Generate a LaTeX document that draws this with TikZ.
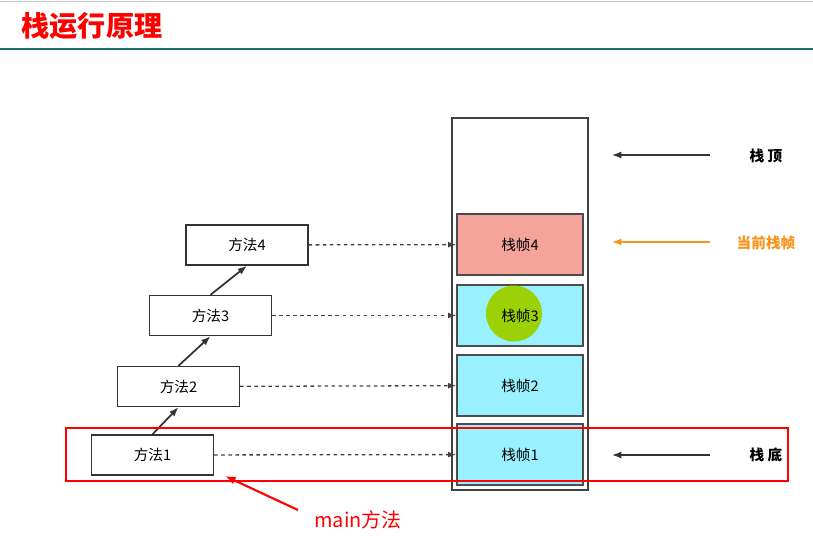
\documentclass[tikz,border=0pt]{standalone}
\usepackage{fontspec}
\setmainfont{Noto Sans CJK SC}
\usetikzlibrary{arrows.meta,positioning}
\definecolor{frameblue}{HTML}{99F0FF}
\definecolor{framered}{HTML}{F4A49A}
\definecolor{curorange}{HTML}{F7941D}
\definecolor{barteal}{HTML}{1F6F68}
\definecolor{cursorgreen}{HTML}{9CD007}
\begin{document}
\begin{tikzpicture}[
    x=0.03cm, y=-0.03cm,
    font=\fontsize{12.5}{14}\selectfont,
    method/.style = {draw=black!80, line width=1.2pt, fill=white, minimum width=122*0.03cm,
                     minimum height=40*0.03cm},
    frame/.style = {draw=black!70, line width=1.2pt, fill=frameblue, minimum width=126*0.03cm,
                    minimum height=61*0.03cm},
    up/.style = {-{Latex[length=8pt,width=6pt]}, line width=1.5pt, black!80},
    calllink/.style = {-{Latex[length=7pt,width=5pt]}, line width=1.1pt, dashed, black!75},
    side/.style = {-{Latex[length=8pt,width=6pt]}, line width=1.2pt, black!80}
  ]
    \useasboundingbox (0,0) rectangle (813,551);
    % title and bar
    \draw[gray!40, thick] (0,1) -- (813,1);
    \node[text=red, font=\fontsize{24}{26}\selectfont\bfseries] (title) at (92,26) {栈运行原理};
    \draw[barteal, line width=2.5pt] (0,49) -- (813,49);
    % stack
    \draw[black!75, line width=1.2pt] (452,118) rectangle (588,490);
    \node[frame, fill=framered] (f4) at (520,244.5) {栈帧4};
    \node[frame] (f3) at (520,315.5) {};
    \fill[cursorgreen] (f3.center) ++(-6,-2) circle (28);
    \node (f3t) at (f3.center) {栈帧3};
    \node[frame] (f2) at (520,385.5) {栈帧2};
    \node[frame] (f1) at (520,454.5) {栈帧1};
    % methods
    \node[method] (m4) at (247,245) {方法4};
    \node[method] (m3) at (210.5,315.5) {方法3};
    \node[method] (m2) at (178.5,386.5) {方法2};
    \node[method] (m1) at (152.5,455) {方法1};
    \draw[up] (m1.north) -- (m2.south);
    \draw[up] (m2.north) -- (m3.south);
    \draw[up] (m3.north) -- (m4.south);
    \draw[calllink] (m4) -- (f4);
    \draw[calllink] (m3) -- (f3);
    \draw[calllink] (m2) -- (f2);
    \draw[calllink] (m1) -- (f1);
    % right labels
    \node[font=\fontsize{12.5}{14}\selectfont\bfseries] (top) at (766,156) {栈 顶};
    \node[font=\fontsize{12.5}{14}\selectfont\bfseries, text=curorange] (cur) at (766,243) {当前栈帧};
    \node[font=\fontsize{12.5}{14}\selectfont\bfseries] (bot) at (766,455) {栈 底};
    \coordinate (topE) at (612,155);
    \coordinate (curE) at (612,242);
    \coordinate (botE) at (612,455);
    \coordinate (topS) at (710,155);
    \coordinate (curS) at (710,242);
    \coordinate (botS) at (710,455);
    \draw[side] (topS) -- (topE);
    \draw[side, curorange] (curS) -- (curE);
    \draw[side] (botS) -- (botE);
    % main highlight
    \draw[red, line width=1pt] (66,428) rectangle (788,481);
    \node[text=red, font=\fontsize{17}{19}\selectfont] (main) at (358,520) {main方法};
    \coordinate (mainS) at (298,510);
    \coordinate (mainE) at (225,476);
    \draw[-{Latex[length=9pt,width=7pt]}, red, line width=1.8pt] (mainS) -- (mainE);
\end{tikzpicture}
\end{document}
